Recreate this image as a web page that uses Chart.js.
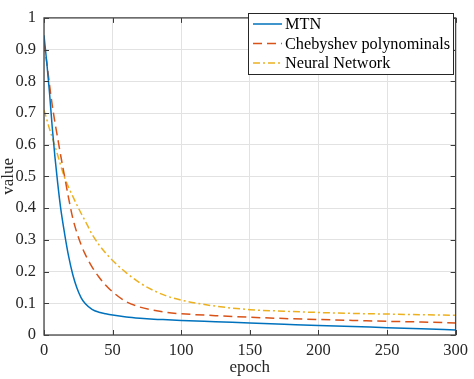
<!DOCTYPE html>
<html>
<head>
<meta charset="utf-8">
<script src="https://cdn.jsdelivr.net/npm/chart.js@4.4.1/dist/chart.umd.min.js"></script>
<style>
  html, body { margin: 0; padding: 0; background: #ffffff; }
  #wrap { width: 474px; height: 379px; position: relative; }
</style>
</head>
<body>
<div id="wrap"><canvas id="c" width="474" height="379"></canvas></div>
<script>
const epochs = [0, 2, 4, 6, 8, 10, 12, 15, 18, 21, 24, 27, 30, 35, 40, 45, 50, 60, 70, 80, 90, 100, 125, 150, 175, 200, 225, 250, 275, 300];
const mtn    = [0.945, 0.86, 0.765, 0.655, 0.56, 0.478, 0.405, 0.32, 0.247, 0.19, 0.148, 0.118, 0.099, 0.081, 0.072, 0.067, 0.063, 0.057, 0.053, 0.050, 0.048, 0.046, 0.042, 0.038, 0.034, 0.030, 0.027, 0.023, 0.020, 0.016];
const cheb   = [0.92, 0.86, 0.79, 0.725, 0.67, 0.62, 0.57, 0.50, 0.43, 0.368, 0.322, 0.285, 0.255, 0.215, 0.183, 0.157, 0.136, 0.105, 0.088, 0.078, 0.071, 0.067, 0.061, 0.056, 0.052, 0.049, 0.046, 0.043, 0.041, 0.038];
const nn     = [0.71, 0.68, 0.65, 0.623, 0.595, 0.567, 0.537, 0.497, 0.465, 0.437, 0.41, 0.384, 0.36, 0.318, 0.285, 0.258, 0.235, 0.196, 0.164, 0.140, 0.122, 0.110, 0.091, 0.080, 0.075, 0.071, 0.068, 0.066, 0.064, 0.062];
const seriesNames = ["MTN", "Chebyshev polynominals", "Neural Network"];
const xTicks = [0, 50, 100, 150, 200, 250, 300];
const yTicks = [0, 0.1, 0.2, 0.3, 0.4, 0.5, 0.6, 0.7, 0.8, 0.9, 1];

const SERIF = '"Liberation Serif", "Times New Roman", serif';
const toPts = arr => arr.map((v, i) => ({ x: epochs[i], y: v }));

const boxAndLegend = {
  id: 'boxAndLegend',
  afterDatasetsDraw(chart) {
    const { ctx, chartArea: a, scales } = chart;
    ctx.save();
    // inward ticks
    ctx.strokeStyle = '#3a3a3a';
    ctx.lineWidth = 1;
    const tl = 5;
    xTicks.forEach(v => {
      const px = Math.round(scales.x.getPixelForValue(v)) + 0.5;
      ctx.beginPath();
      ctx.moveTo(px, a.bottom); ctx.lineTo(px, a.bottom - tl);
      ctx.moveTo(px, a.top); ctx.lineTo(px, a.top + tl);
      ctx.stroke();
    });
    yTicks.forEach(v => {
      const py = Math.round(scales.y.getPixelForValue(v)) + 0.5;
      ctx.beginPath();
      ctx.moveTo(a.left, py); ctx.lineTo(a.left + tl, py);
      ctx.moveTo(a.right, py); ctx.lineTo(a.right - tl, py);
      ctx.stroke();
    });
    // box
    ctx.strokeStyle = '#474747';
    ctx.lineWidth = 1.3;
    ctx.strokeRect(a.left, a.top, a.right - a.left, a.bottom - a.top);

    // legend
    const lx = 248, ly = 13, lw = 205, lh = 61;
    ctx.fillStyle = '#ffffff';
    ctx.fillRect(lx, ly, lw, lh);
    ctx.strokeStyle = '#262626';
    ctx.lineWidth = 1;
    ctx.strokeRect(lx + 0.5, ly + 0.5, lw, lh);
    ctx.font = '16.3px ' + SERIF;
    ctx.textBaseline = 'middle';
    ctx.textAlign = 'left';
    chart.data.datasets.forEach((ds, i) => {
      const cy = ly + 11 + i * 19.5;
      ctx.strokeStyle = ds.borderColor;
      ctx.lineWidth = ds.borderWidth;
      ctx.setLineDash(ds.borderDash || []);
      ctx.beginPath();
      ctx.moveTo(lx + 5, cy); ctx.lineTo(lx + 34, cy);
      ctx.stroke();
      ctx.setLineDash([]);
      ctx.fillStyle = '#000000';
      ctx.fillText(ds.label, lx + 37, cy + 1);
    });
    ctx.restore();
  }
};

new Chart(document.getElementById('c'), {
  type: 'line',
  data: {
    datasets: [
      { label: seriesNames[0], data: toPts(mtn), borderColor: '#0072BD', borderWidth: 1.5, pointRadius: 0, cubicInterpolationMode: 'monotone' },
      { label: seriesNames[1], data: toPts(cheb), borderColor: '#D95319', borderWidth: 1.5, borderDash: [9, 5], pointRadius: 0, cubicInterpolationMode: 'monotone' },
      { label: seriesNames[2], data: toPts(nn), borderColor: '#EDB120', borderWidth: 1.5, borderDash: [7, 3, 2, 3], pointRadius: 0, cubicInterpolationMode: 'monotone' }
    ]
  },
  options: {
    responsive: false,
    animation: false,
    devicePixelRatio: 1,
    layout: { autoPadding: false, padding: { top: 5, right: 12, left: 0, bottom: 0 } },
    plugins: { legend: { display: false }, tooltip: { enabled: false } },
    scales: {
      x: {
        type: 'linear', min: 0, max: 300,
        afterBuildTicks: s => { s.ticks = xTicks.map(v => ({ value: v })); },
        afterFit: s => { s.height = 44; },
        grid: { color: '#e2e2e2', lineWidth: 1, drawTicks: false },
        border: { display: false },
        ticks: { color: '#262626', padding: 6, font: { family: SERIF, size: 16.5 }, maxRotation: 0, callback: v => String(v) },
        title: { display: true, text: 'epoch', color: '#262626', font: { family: SERIF, size: 17 }, padding: { top: 0, bottom: 1 } }
      },
      y: {
        type: 'linear', min: 0, max: 1,
        afterBuildTicks: s => { s.ticks = yTicks.map(v => ({ value: v })); },
        afterFit: s => { s.width = 44; },
        grid: { color: '#e2e2e2', lineWidth: 1, drawTicks: false },
        border: { display: false },
        ticks: { color: '#262626', padding: 8, font: { family: SERIF, size: 16.5 }, callback: v => String(Math.round(v * 10) / 10) },
        title: { display: true, text: 'value', color: '#262626', font: { family: SERIF, size: 17, lineHeight: 1 }, padding: { top: 0, bottom: 0 } }
      }
    }
  },
  plugins: [boxAndLegend]
});
</script>
</body>
</html>
